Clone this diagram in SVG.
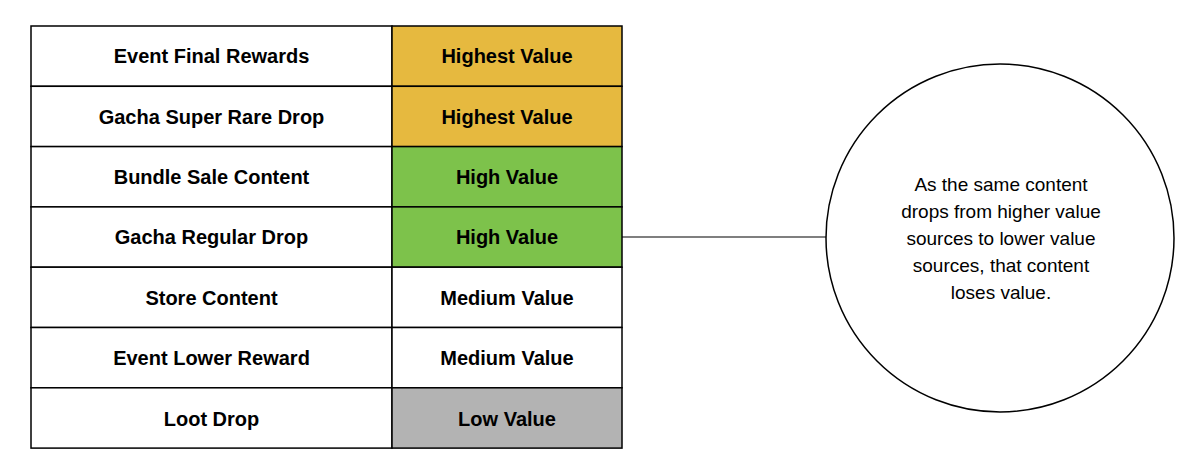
<svg xmlns="http://www.w3.org/2000/svg" width="1200" height="473" viewBox="0 0 1200 473">
<style>
.c{stroke:#000;stroke-width:1.5}
.t{font-family:"Liberation Sans",Arial,sans-serif;font-weight:bold;font-size:20px;text-anchor:middle;fill:#000}
.n{font-family:"Liberation Sans",Arial,sans-serif;font-size:19px;text-anchor:middle;fill:#000}
</style>
<rect width="1200" height="473" fill="#fff"/>
<g id="connectors"><line x1="622" y1="237" x2="826" y2="237" stroke="#000" stroke-width="1.2"/></g>
<g id="row1"><rect class="c" x="31" y="26" width="361" height="60.3" fill="#fff"/><rect class="c" x="392" y="26" width="230" height="60.3" fill="#E6B93F"/><text class="t" x="211.5" y="63">Event Final Rewards</text><text class="t" x="507" y="63">Highest Value</text></g>
<g id="row2"><rect class="c" x="31" y="86.3" width="361" height="60.3" fill="#fff"/><rect class="c" x="392" y="86.3" width="230" height="60.3" fill="#E6B93F"/><text class="t" x="211.5" y="124">Gacha Super Rare Drop</text><text class="t" x="507" y="124">Highest Value</text></g>
<g id="row3"><rect class="c" x="31" y="146.6" width="361" height="60.3" fill="#fff"/><rect class="c" x="392" y="146.6" width="230" height="60.3" fill="#7DC24B"/><text class="t" x="211.5" y="184">Bundle Sale Content</text><text class="t" x="507" y="184">High Value</text></g>
<g id="row4"><rect class="c" x="31" y="206.9" width="361" height="60.3" fill="#fff"/><rect class="c" x="392" y="206.9" width="230" height="60.3" fill="#7DC24B"/><text class="t" x="211.5" y="244">Gacha Regular Drop</text><text class="t" x="507" y="244">High Value</text></g>
<g id="row5"><rect class="c" x="31" y="267.2" width="361" height="60.3" fill="#fff"/><rect class="c" x="392" y="267.2" width="230" height="60.3" fill="#fff"/><text class="t" x="211.5" y="305">Store Content</text><text class="t" x="507" y="305">Medium Value</text></g>
<g id="row6"><rect class="c" x="31" y="327.5" width="361" height="60.3" fill="#fff"/><rect class="c" x="392" y="327.5" width="230" height="60.3" fill="#fff"/><text class="t" x="211.5" y="365">Event Lower Reward</text><text class="t" x="507" y="365">Medium Value</text></g>
<g id="row7"><rect class="c" x="31" y="387.8" width="361" height="60.3" fill="#fff"/><rect class="c" x="392" y="387.8" width="230" height="60.3" fill="#B3B3B3"/><text class="t" x="211.5" y="426">Loot Drop</text><text class="t" x="507" y="426">Low Value</text></g>
<g id="note"><circle cx="1000" cy="238" r="174" fill="#fff" stroke="#000" stroke-width="1.5"/>
<text class="n"><tspan x="1001" y="191">As the same content</tspan><tspan x="1001" y="218">drops from higher value</tspan><tspan x="1001" y="245">sources to lower value</tspan><tspan x="1001" y="272">sources, that content</tspan><tspan x="1001" y="299">loses value.</tspan></text></g>
</svg>
